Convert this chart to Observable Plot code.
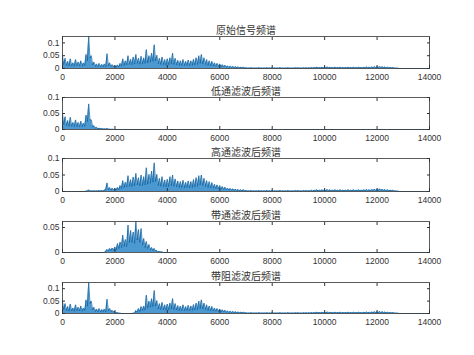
<!DOCTYPE html>
<html>
<head>
<meta charset="utf-8">
<script src="https://cdn.jsdelivr.net/npm/d3@7"></script>
<script src="https://cdn.jsdelivr.net/npm/@observablehq/plot@0.6"></script>
<style>
  html, body { margin: 0; padding: 0; background: #fff; }
  #chart { position: relative; width: 474px; height: 355px; overflow: hidden; }
  #chart svg { position: absolute; left: 0; }
</style>
</head>
<body>
<div id="chart"></div>
<script>
// Magnitude spectra in units of 0.001.
// "Peak" arrays: local maxima at 0, 100, 200 ... 14000 Hz (141 values).
// "Trough" arrays: local minima at 50, 150, ... 13950 Hz (140 values).
const titles = ["原始信号频谱", "低通滤波后频谱", "高通滤波后频谱", "带通滤波后频谱", "带阻滤波后频谱"];
const xTicks = [0, 2000, 4000, 6000, 8000, 10000, 12000, 14000];

const originalPeak = [
  50,40,28,38,22,35,25,30,22,55,
  125,50,25,18,20,16,18,58,22,15,
  12,14,20,38,30,50,36,45,55,40,
  48,42,74,50,60,93,52,40,45,35,
  38,42,60,40,32,30,35,28,33,30,
  36,42,50,55,42,35,30,28,22,20,
  18,15,13,10,9,8,7,6,5,5,
  3,2,3,2,2,3,2,2,3,2,
  3,2,2,3,2,2,3,2,2,3,
  3,2,3,3,3,4,4,5,4,5,
  5,6,5,4,5,4,5,4,4,5,
  4,5,4,5,4,5,6,5,6,7,
  7,8,7,6,5,4,4,2,1,0,
  0,0,0,0,0,0,0,0,0,0,0
];
const originalTrough = [
  15,12,10,10,9,11,10,9,12,30,
  40,14,8,7,6,7,6,10,8,6,
  5,6,9,12,14,16,15,18,20,17,
  18,20,22,25,28,30,18,16,15,14,
  15,18,16,14,12,12,11,12,11,12,
  14,16,20,18,15,12,11,10,9,8,
  7,6,5,4,4,3,3,2,2,2,
  1,1,1,1,1,1,1,1,1,1,
  1,1,1,1,1,1,1,1,1,1,
  1,1,1,1,1,1,2,2,2,2,
  2,2,2,2,2,2,2,2,2,2,
  2,2,2,2,2,2,2,2,3,3,
  3,3,3,2,2,2,1,1,0,0,
  0,0,0,0,0,0,0,0,0,0
];
const lowpassPeak = [
  50,40,28,38,22,30,22,26,20,45,
  80,30,12,7,4,3,2,3,1,1,
  0,0,0,0,0,0,0,0,0,0,
  0,0,0,0,0,0,0,0,0,0,
  0,0,0,0,0,0,0,0,0,0,
  0,0,0,0,0,0,0,0,0,0,
  0,0,0,0,0,0,0,0,0,0,
  0,0,0,0,0,0,0,0,0,0,
  0,0,0,0,0,0,0,0,0,0,
  0,0,0,0,0,0,0,0,0,0,
  0,0,0,0,0,0,0,0,0,0,
  0,0,0,0,0,0,0,0,0,0,
  0,0,0,0,0,0,0,0,0,0,
  0,0,0,0,0,0,0,0,0,0,0
];
const lowpassTrough = [
  15,12,10,10,9,9,8,9,10,25,
  30,8,4,2,2,1,1,1,0,0,
  0,0,0,0,0,0,0,0,0,0,
  0,0,0,0,0,0,0,0,0,0,
  0,0,0,0,0,0,0,0,0,0,
  0,0,0,0,0,0,0,0,0,0,
  0,0,0,0,0,0,0,0,0,0,
  0,0,0,0,0,0,0,0,0,0,
  0,0,0,0,0,0,0,0,0,0,
  0,0,0,0,0,0,0,0,0,0,
  0,0,0,0,0,0,0,0,0,0,
  0,0,0,0,0,0,0,0,0,0,
  0,0,0,0,0,0,0,0,0,0,
  0,0,0,0,0,0,0,0,0,0
];
const highpassPeak = [
  0,0,0,0,0,0,0,0,0,1,
  5,2,2,2,3,3,4,26,12,10,
  9,12,18,33,28,48,36,44,55,42,
  50,45,72,52,62,87,52,40,45,35,
  37,45,50,38,32,30,34,28,32,30,
  36,42,48,50,40,33,30,27,22,20,
  18,15,13,10,9,8,7,6,5,5,
  3,2,3,2,2,3,2,2,3,2,
  3,2,2,3,2,2,3,2,2,3,
  3,2,3,3,3,4,4,5,4,5,
  5,6,5,4,5,4,5,4,4,5,
  4,5,4,5,4,5,6,5,6,7,
  7,8,7,6,5,4,4,2,1,0,
  0,0,0,0,0,0,0,0,0,0,0
];
const highpassTrough = [
  0,0,0,0,0,0,0,0,0,1,
  1,1,1,1,1,1,6,5,4,4,
  4,6,9,12,14,16,15,18,20,17,
  18,20,22,25,28,30,18,16,15,14,
  15,18,16,14,12,12,11,12,11,12,
  14,16,20,18,15,12,11,10,9,8,
  7,6,5,4,4,3,3,2,2,2,
  1,1,1,1,1,1,1,1,1,1,
  1,1,1,1,1,1,1,1,1,1,
  1,1,1,1,1,1,2,2,2,2,
  2,2,2,2,2,2,2,2,2,2,
  2,2,2,2,2,2,2,2,3,3,
  3,3,3,2,2,2,1,1,0,0,
  0,0,0,0,0,0,0,0,0,0
];
const bandpassPeak = [
  0,0,0,0,0,0,0,0,0,0,
  0,0,0,0,0,0,0,6,8,9,
  11,18,21,35,26,55,44,41,62,46,
  48,28,22,16,10,8,4,2,1,0,
  0,0,0,0,0,0,0,0,0,0,
  0,0,0,0,0,0,0,0,0,0,
  0,0,0,0,0,0,0,0,0,0,
  0,0,0,0,0,0,0,0,0,0,
  0,0,0,0,0,0,0,0,0,0,
  0,0,0,0,0,0,0,0,0,0,
  0,0,0,0,0,0,0,0,0,0,
  0,0,0,0,0,0,0,0,0,0,
  0,0,0,0,0,0,0,0,0,0,
  0,0,0,0,0,0,0,0,0,0,0
];
const bandpassTrough = [
  0,0,0,0,0,0,0,0,0,0,
  0,0,0,0,0,0,2,3,4,4,
  5,8,10,12,12,20,20,18,25,20,
  15,10,8,5,4,3,1,1,0,0,
  0,0,0,0,0,0,0,0,0,0,
  0,0,0,0,0,0,0,0,0,0,
  0,0,0,0,0,0,0,0,0,0,
  0,0,0,0,0,0,0,0,0,0,
  0,0,0,0,0,0,0,0,0,0,
  0,0,0,0,0,0,0,0,0,0,
  0,0,0,0,0,0,0,0,0,0,
  0,0,0,0,0,0,0,0,0,0,
  0,0,0,0,0,0,0,0,0,0,
  0,0,0,0,0,0,0,0,0,0
];
const bandstopPeak = [
  50,40,28,38,22,35,25,30,22,55,
  125,50,25,18,20,16,18,58,20,12,
  8,3,1,0,0,0,0,1,12,20,
  28,30,74,50,60,93,52,40,45,35,
  38,42,60,40,32,30,35,28,33,30,
  36,42,50,55,42,35,30,28,22,20,
  18,15,13,10,9,8,7,6,5,5,
  3,2,3,2,2,3,2,2,3,2,
  3,2,2,3,2,2,3,2,2,3,
  3,2,3,3,3,4,4,5,4,5,
  5,6,5,4,5,4,5,4,4,5,
  4,5,4,5,4,5,6,5,6,7,
  7,8,7,6,5,4,4,2,1,0,
  0,0,0,0,0,0,0,0,0,0,0
];
const bandstopTrough = [
  15,12,10,10,9,11,10,9,12,30,
  40,14,8,7,6,7,6,10,8,6,
  3,1,0,0,0,0,0,1,5,8,
  12,14,22,25,28,30,18,16,15,14,
  15,18,16,14,12,12,11,12,11,12,
  14,16,20,18,15,12,11,10,9,8,
  7,6,5,4,4,3,3,2,2,2,
  1,1,1,1,1,1,1,1,1,1,
  1,1,1,1,1,1,1,1,1,1,
  1,1,1,1,1,1,2,2,2,2,
  2,2,2,2,2,2,2,2,2,2,
  2,2,2,2,2,2,2,2,3,3,
  3,3,3,2,2,2,1,1,0,0,
  0,0,0,0,0,0,0,0,0,0
];
const yMax = [0.125, 0.1, 0.1, 0.062, 0.125];
const yTickSets = [[0, 0.05, 0.1], [0, 0.05, 0.1], [0, 0.05, 0.1], [0, 0.05], [0, 0.05, 0.1]];

const peaks = [originalPeak, lowpassPeak, highpassPeak, bandpassPeak, bandstopPeak];
const troughs = [originalTrough, lowpassTrough, highpassTrough, bandpassTrough, bandstopTrough];
const frameTop = [36, 97, 158, 221, 282];
const frameBottom = [68, 129, 191, 252, 313];

const container = document.getElementById("chart");
const padTop = 18, padBottom = 16;
peaks.forEach((pk, k) => {
  const tr = troughs[k];
  const data = [];
  pk.forEach((v, i) => {
    data.push({f: i * 100, v: v / 1000});
    if (i < tr.length) data.push({f: i * 100 + 50, v: tr[i] / 1000});
  });
  const h = frameBottom[k] - frameTop[k];
  const plot = Plot.plot({
    width: 474,
    height: padTop + h + padBottom,
    marginTop: padTop,
    marginBottom: padBottom,
    marginLeft: 62,
    marginRight: 45,
    x: {domain: [0, 14000], label: null},
    y: {domain: [0, yMax[k]], label: null},
    style: {background: "transparent", fontFamily: "'Liberation Sans', Arial, sans-serif", fontSize: "8.5px", color: "#333", overflow: "visible"},
    marks: [
      Plot.areaY(data, {x: "f", y: "v", fill: "#1f7fc6", fillOpacity: 0.8}),
      Plot.lineY(data, {x: "f", y: "v", stroke: "#0b5e9e", strokeWidth: 0.7}),
      Plot.frame({stroke: "#333", strokeWidth: 0.8}),
      Plot.axisX({ticks: xTicks, tickSize: -3, tickPadding: 8, tickFormat: String, stroke: "#333"}),
      Plot.axisX({anchor: "top", ticks: xTicks, tickSize: -3, tickFormat: () => "", stroke: "#333"}),
      Plot.axisY({ticks: yTickSets[k], tickSize: -3, tickPadding: 6, tickFormat: String, stroke: "#333"}),
      Plot.axisY({anchor: "right", ticks: yTickSets[k], tickSize: -3, tickFormat: () => "", stroke: "#333"}),
      Plot.text([titles[k]], {frameAnchor: "top", lineAnchor: "bottom", dy: -3, fontSize: 10, fill: "#333",
        fontFamily: "'Noto Sans CJK SC', sans-serif"})
    ]
  });
  plot.style.top = (frameTop[k] - padTop) + "px";
  container.appendChild(plot);
});
</script>
</body>
</html>
